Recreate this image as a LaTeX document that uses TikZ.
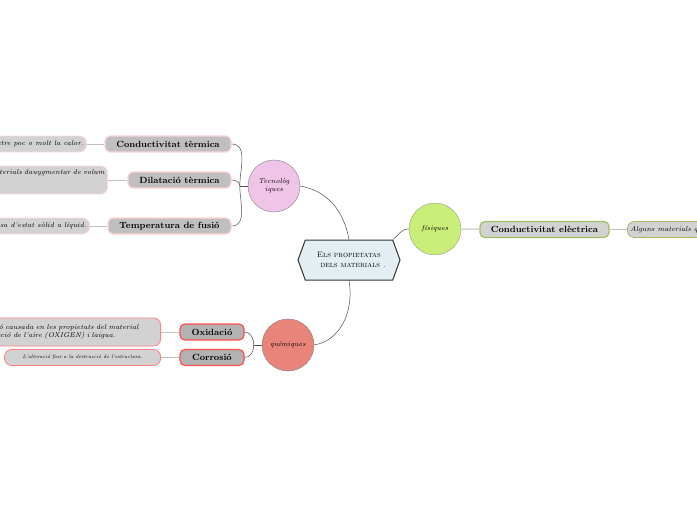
\documentclass[tikz,border=0pt]{standalone}
\usetikzlibrary{shapes.symbols}
\definecolor{hexf}{HTML}{E3EEF2}
\definecolor{pinkf}{HTML}{F0C4E8}
\definecolor{redf}{HTML}{E8847A}
\definecolor{greenf}{HTML}{C8EE78}
\begin{document}
\begin{tikzpicture}[x=1pt,y=-1pt,
 con/.style={draw=black!70,line width=0.5pt},
 lcon/.style={draw=black!25,line width=1pt},
 topic/.style={circle,draw=black!50,minimum size=52pt,inner sep=0pt,font=\scriptsize\itshape},
 sub/.style={rounded corners=5pt,line width=1.2pt,minimum height=16pt,inner sep=2pt,font=\small\bfseries},
 leaf/.style={rounded corners=7pt,line width=0.8pt,fill=gray!35,font=\scriptsize\itshape,inner sep=3pt,align=left}]
\useasboundingbox (0,0) rectangle (697,520);
\begin{scope}
\clip (0,0) rectangle (697,520);
\node[signal,signal to=west and east,signal pointer angle=140,draw=black!80,line width=1pt,fill=hexf,minimum width=102pt,minimum height=40pt,font=\footnotesize\scshape,align=center] (c) at (349,260) {Els propietatas\\ \quad dels materials .};
\node[topic,fill=pinkf,align=center] (t) at (274,186) {Tecnològ\\iques};
\node[topic,fill=redf] (q) at (288,345) {químiques};
\node[topic,fill=greenf,draw=black!40] (f) at (435,229) {físiques};
\node[sub,fill=gray!50,draw=pink!70,minimum width=126pt] (ct) at (168,144) {Conductivitat tèrmica};
\node[sub,fill=gray!50,draw=pink!70,minimum width=103pt] (dt) at (179.5,180) {Dilatació tèrmica};
\node[sub,fill=gray!50,draw=pink!70,minimum width=123pt] (tf) at (169.5,226) {Temperatura de fusió};
\node[sub,fill=gray!60,draw=red!70,minimum width=64pt] (ox) at (212,332) {Oxidació};
\node[sub,fill=gray!60,draw=red!70,minimum width=64pt] (co) at (212,357.5) {Corrosió};
\node[sub,fill=gray!35,draw=greenf!80!black,minimum width=129pt] (ce) at (544.5,229.5) {Conductivitat elèctrica};
\node[leaf,draw=pink!60,anchor=east,minimum height=16pt] (l1) at (87,144) {Els materials que transmetre poc o molt la calor.};
\node[leaf,draw=pink!60,anchor=east,minimum height=28pt,text width=170pt] (l2) at (108,180) {\hfill Capacitat dels materials dauygmentar de volum quan\phantom{xx}\\ \phantom{x}};
\node[leaf,draw=pink!60,anchor=east,minimum height=16pt] (l3) at (90,226) {Temperatura on passa d'estat sòlid a líquid.};
\node[leaf,draw=red!50,anchor=east,minimum height=28pt,text width=220pt] (l4) at (161,332) {\hfill Alteració causada en les propietats del material\phantom{xxxxx}\\ \hfill per l'acció de l'aire (OXIGEN) i laigua.\phantom{xxxxxxxxxxx}};
\node[leaf,draw=red!50,anchor=east,minimum height=16pt,minimum width=156pt,font=\tiny\itshape] (l5) at (161,357.5) {L'alteració fins a la destrucció de l'estructura.};
\node[leaf,draw=greenf!80!black,anchor=west,minimum height=16pt] (l6) at (627,229.5) {Alguns materials que condueixen};
\draw[lcon] (ct) -- (l1); \draw[lcon] (dt) -- (l2); \draw[lcon] (tf) -- (l3);
\draw[lcon] (ox) -- (l4); \draw[lcon] (co) -- (l5); \draw[lcon] (ce) -- (l6);
\draw[lcon] (f) -- (ce);
\draw[con] (c.north) to[out=100,in=-10] (t.east);
\draw[con] (c.south) to[out=-80,in=10] (q.east);
\draw[con] (c.north east) to[out=40,in=180] (f.west);
\draw[con] (t.west) -- ++(-8,0) coordinate (tj);
\draw[con] (tj) to[out=90,in=0] (ct.east);
\draw[con] (tj) to[out=90,in=0] (dt.east);
\draw[con] (tj) to[out=-90,in=0] (tf.east);
\draw[con] (q.west) -- ++(-8,0) coordinate (qj);
\draw[con] (qj) to[out=90,in=0] (ox.east);
\draw[con] (qj) to[out=-90,in=0] (co.east);
\end{scope}
\end{tikzpicture}
\end{document}
